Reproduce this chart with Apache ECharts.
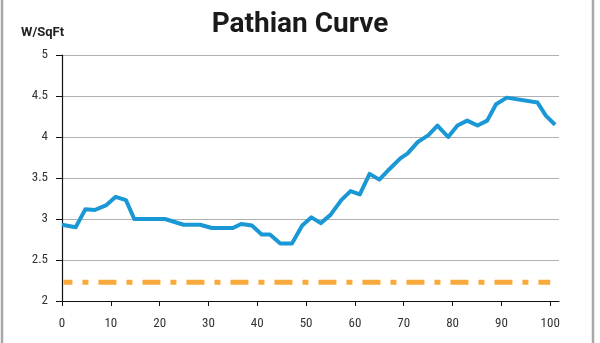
<!DOCTYPE html>
<html><head><meta charset="utf-8">
<script src="https://cdn.jsdelivr.net/npm/echarts@6/dist/echarts.min.js"></script>
<style>html,body{margin:0;padding:0;background:#fff}#c{width:600px;height:343px}</style>
</head><body><div id="c"></div>
<script>
const titleText = 'Pathian Curve';
const yAxisName = 'W/SqFt';
const curveX = [0, 2.8, 4.8, 6.7, 9.1, 11, 13.1, 14.8, 21.1, 24.9, 28.3, 30.7, 35, 36.7, 38.9, 40.9, 42.6, 44.7, 47.1, 49.2, 51.1, 53, 55, 57.2, 59.1, 61, 63, 65, 67.1, 69.3, 70.8, 72.9, 75, 76.9, 79.1, 81, 83, 85.1, 87.1, 88.9, 91.1, 97.4, 99.1, 101];
const curveY = [2.93, 2.90, 3.12, 3.11, 3.17, 3.27, 3.23, 3.00, 3.00, 2.93, 2.93, 2.89, 2.89, 2.94, 2.92, 2.81, 2.81, 2.70, 2.70, 2.92, 3.02, 2.95, 3.05, 3.23, 3.34, 3.30, 3.55, 3.48, 3.61, 3.74, 3.80, 3.94, 4.02, 4.14, 4.00, 4.14, 4.20, 4.14, 4.20, 4.40, 4.48, 4.42, 4.26, 4.15];
const baselineX = [0.3, 100];
const baselineY = [2.23, 2.23];
const xTicks = [0,10,20,30,40,50,60,70,80,90,100];
const yTicks = [2,2.5,3,3.5,4,4.5,5];

const labelFont = "'Liberation Sans Narrow', 'Roboto Condensed', Roboto, sans-serif";
const chart = echarts.init(document.getElementById('c'));
chart.setOption({
  animation: false,
  title: {text: titleText, left: 'center', top: 6,
    textStyle: {fontFamily: 'Roboto', fontWeight: 'bold', fontSize: 28, color: '#1a1a1a'}},
  graphic: [
    {type: 'rect', shape: {x: 2, y: -2, width: 591, height: 350}, style: {fill: 'none', stroke: '#a8a8a8', lineWidth: 2.5}},
    {type: 'text', left: 21, top: 26, style: {text: yAxisName, font: 'bold 13px Roboto', fill: '#222'}}
  ],
  grid: {left: 62, right: 41, top: 55, bottom: 42},
  xAxis: {type: 'value', min: 0, max: 101.8, interval: 10,
    axisLine: {lineStyle: {color: '#111', width: 1.2}},
    axisTick: {length: 5, lineStyle: {color: '#111'}, customValues: xTicks},
    axisLabel: {color: '#333', fontFamily: labelFont, fontSize: 13, margin: 16, customValues: xTicks,
      formatter: v => String(v)},
    splitLine: {show: false}},
  yAxis: {type: 'value', min: 2, max: 5, interval: 0.5,
    axisLine: {show: true, lineStyle: {color: '#111', width: 1.2}},
    axisTick: {show: true, length: 6, lineStyle: {color: '#111'}},
    axisLabel: {color: '#333', fontFamily: labelFont, fontSize: 13, margin: 14,
      formatter: v => yTicks.includes(v) ? String(v) : ''},
    splitLine: {lineStyle: {color: '#b0b0b0', width: 1}}},
  series: [
    {type: 'line', data: baselineX.map((x, i) => [x, baselineY[i]]), symbol: 'none',
      lineStyle: {color: '#f9aa3c', width: 5, type: [18, 10, 6, 10], dashOffset: 9}},
    {type: 'line', data: curveX.map((x, i) => [x, curveY[i]]), symbol: 'none',
      lineStyle: {color: '#1a98d5', width: 4, join: 'round'}}
  ]
});
</script></body></html>
